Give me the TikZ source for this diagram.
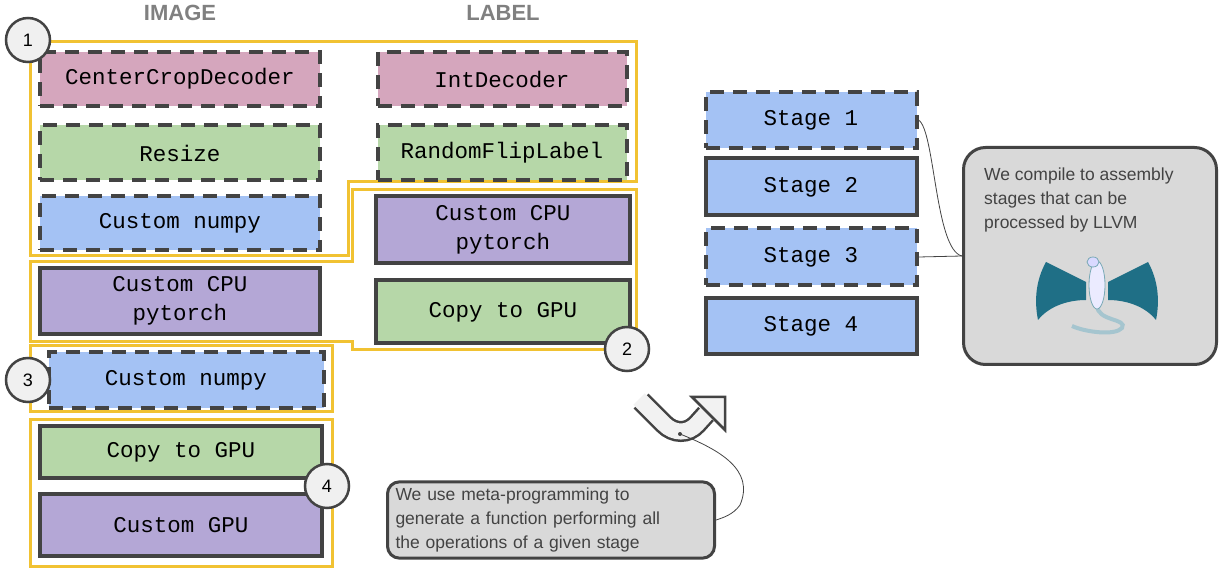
\documentclass[tikz,border=0pt]{standalone}
\usepackage{fontspec}
\setmainfont{Liberation Sans}
\newfontfamily\monofont{Liberation Mono}
\definecolor{pinkop}{HTML}{D5A6BD}
\definecolor{greenop}{HTML}{B6D7A8}
\definecolor{blueop}{HTML}{A4C2F4}
\definecolor{purpleop}{HTML}{B4A7D6}
\definecolor{groupline}{HTML}{F1C232}
\definecolor{darkline}{HTML}{434343}
\definecolor{notefill}{HTML}{D9D9D9}
\definecolor{dragonteal}{HTML}{1F6F86}
\begin{document}
\begin{tikzpicture}[
    x=1pt, y=-1pt,
    op/.style={rectangle, draw=darkline, line width=4pt, align=center, inner sep=0pt,
      font=\monofont\fontsize{22.5}{29}\selectfont},
    fused/.style={op, dash pattern=on 14pt off 9pt},
    group/.style={draw=groupline, line width=3pt},
    marker/.style={circle, draw=darkline, fill=gray!12, line width=2.5pt, minimum size=44pt,
      inner sep=0pt, font=\fontsize{18}{20}\selectfont},
    note/.style={rectangle, rounded corners=22pt, draw=darkline, fill=notefill, line width=3pt,
      align=left, text=darkline, font=\fontsize{17.5}{24}\selectfont},
    header/.style={text=gray, font=\bfseries\fontsize{22}{24}\selectfont},
    link/.style={draw=darkline, line width=0.8pt}
]
\useasboundingbox (0,0) rectangle (1219,569);

% Group outlines
\draw[group] (30,42) -- (636,42) -- (636,182) -- (348,182) -- (348,256) -- (30,256) -- cycle;
\draw[group] (30,262) -- (352,262) -- (352,190) -- (636,190) -- (636,350) -- (352,350)
  -- (352,342) -- (30,342) -- cycle;
\draw[group] (30,346) rectangle (332,412);
\draw[group] (30,420) rectangle (332,566);

% Headers
\node[header] (himage) at (180,13) {IMAGE};
\node[header] (hlabel) at (503,13) {LABEL};

% Image column
\node[fused, fill=pinkop, minimum width=280pt, minimum height=54pt] (ccd) at (180,79) {CenterCropDecoder};
\node[fused, fill=greenop, minimum width=280pt, minimum height=55pt] (resize) at (180,153) {Resize};
\node[fused, fill=blueop, minimum width=280pt, minimum height=54pt] (npy1) at (180,223) {Custom numpy};
\node[op, fill=purpleop, minimum width=280pt, minimum height=66pt] (cpu1) at (180,301) {Custom CPU\\pytorch};
\node[fused, fill=blueop, minimum width=275pt, minimum height=56pt] (npy2) at (186,380) {Custom numpy};
\node[op, fill=greenop, minimum width=282pt, minimum height=52pt] (gpu1) at (181,452) {Copy to GPU};
\node[op, fill=purpleop, minimum width=282pt, minimum height=62pt] (cgpu) at (181,525) {Custom GPU};

% Label column
\node[fused, fill=pinkop, minimum width=249pt, minimum height=54pt] (intdec) at (502,79) {IntDecoder};
\node[fused, fill=greenop, minimum width=249pt, minimum height=55pt] (flip) at (502,153) {RandomFlipLabel};
\node[op, fill=purpleop, minimum width=254pt, minimum height=67pt] (cpu2) at (503,230) {Custom CPU\\pytorch};
\node[op, fill=greenop, minimum width=254pt, minimum height=63pt] (gpu2) at (503,312) {Copy to GPU};

% Step markers
\node[marker] (s1) at (28,40) {1};
\node[marker] (s2) at (627,349) {2};
\node[marker] (s3) at (28,380) {3};
\node[marker] (s4) at (327,486) {4};

% Stages
\node[fused, fill=blueop, minimum width=211pt, minimum height=56pt] (st1) at (811,120) {Stage 1};
\node[op, fill=blueop, minimum width=211pt, minimum height=57pt] (st2) at (811,187) {Stage 2};
\node[fused, fill=blueop, minimum width=211pt, minimum height=57pt] (st3) at (811,257) {Stage 3};
\node[op, fill=blueop, minimum width=211pt, minimum height=56pt] (st4) at (811,326) {Stage 4};

% Notes
\node[note, minimum width=253pt, minimum height=217pt, anchor=north west, inner sep=0pt] (llvm) at (962,146) {};
\node[align=left, text=darkline, font=\fontsize{17.5}{24}\selectfont, anchor=north west, inner sep=0pt]
  (llvmtext) at (984,168) {We compile to assembly\\stages that can be\\processed by LLVM};
\node[note, rounded corners=12pt, minimum width=327pt, minimum height=71pt, text width=311pt,
  inner sep=6pt] (meta) at (551,520) {We use meta-programming to\\generate a function performing all\\the operations of a given stage};

% Dragon
\fill[dragonteal] (1086,282) -- (1046,262) .. controls (1036,280) and (1034,300) .. (1038,320)
  .. controls (1050,305) and (1070,300) .. (1086,300) -- cycle;
\fill[dragonteal] (1108,282) -- (1148,262) .. controls (1158,280) and (1160,300) .. (1156,320)
  .. controls (1144,305) and (1124,300) .. (1108,300) -- cycle;
\draw[dragonteal!40, line width=4pt] (1097,305) .. controls (1097,322) and (1128,318) .. (1122,328)
  .. controls (1115,336) and (1085,332) .. (1072,326);
\fill[blue!8, draw=dragonteal!60, line width=0.8pt] (1097,285) ellipse (8pt and 24pt);
\fill[blue!15, draw=dragonteal!60, line width=0.8pt] (1093,262) ellipse (6pt and 5pt);

% Meta-programming arrow
\draw[darkline, line width=21pt, line cap=butt] (641,401) -- (664,424)
  .. controls (674,434) and (688,434) .. (697,424) -- (706,414);
\draw[gray!10, line width=16pt, line cap=butt] (639,399) -- (664,424)
  .. controls (674,434) and (688,434) .. (697,424) -- (707,413);
\draw[darkline, line width=2.5pt, fill=gray!10] (692,397) -- (725,397) -- (725,430) -- cycle;
\coordinate (arrowtip) at (680,434);

% Connectors
\draw[link] (st1.east) .. controls (935,130) and (935,250) .. (llvm.west);
\draw[link] (st3.east) -- (llvm.west);
\fill[darkline] (arrowtip) circle (2pt);
\draw[link] (arrowtip) .. controls (720,450) and (755,470) .. (740,505) .. controls (733,515) and (722,518) .. (meta.east);
\end{tikzpicture}
\end{document}
